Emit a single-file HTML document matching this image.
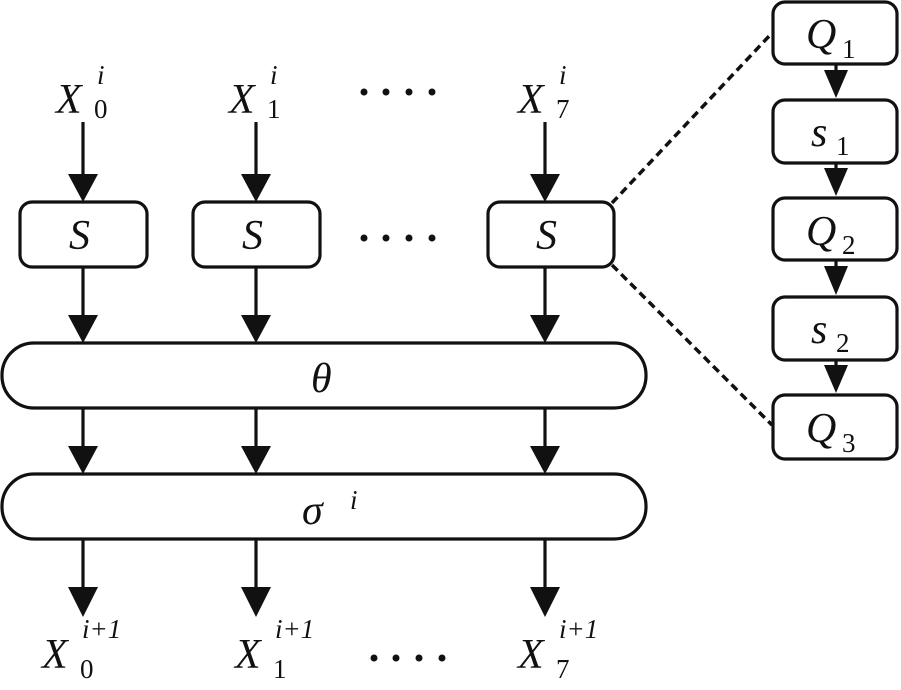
<!DOCTYPE html>
<html><head><style>
body{margin:0;background:#fff;}
</style></head><body>
<svg width="901" height="685" viewBox="0 0 901 685" xmlns="http://www.w3.org/2000/svg" font-family="'Liberation Serif', 'Times New Roman', Times, serif">
<g stroke="#111" stroke-width="3.2" fill="none">
<rect x="20" y="202" width="127" height="65" rx="12"/>
<rect x="193" y="202" width="127" height="65" rx="12"/>
<rect x="488" y="202" width="126" height="65" rx="12"/>
<rect x="2" y="343" width="644" height="65" rx="32"/>
<rect x="2" y="474" width="644" height="65" rx="32"/>
<rect x="773" y="2" width="124" height="62" rx="12"/>
<rect x="773" y="100" width="124" height="63" rx="12"/>
<rect x="773" y="198" width="124" height="62" rx="12"/>
<rect x="773" y="297" width="124" height="63" rx="12"/>
<rect x="773" y="395" width="124" height="64" rx="12"/>
<g stroke-dasharray="8,5" stroke-width="3.5">
<line x1="612" y1="203" x2="772" y2="33"/>
<line x1="612" y1="265" x2="772" y2="425"/>
</g>
<g>
<line x1="83" y1="122" x2="83" y2="180"/><line x1="256" y1="122" x2="256" y2="180"/><line x1="545" y1="122" x2="545" y2="180"/>
<line x1="83" y1="267" x2="83" y2="320"/><line x1="256" y1="267" x2="256" y2="320"/><line x1="545" y1="267" x2="545" y2="320"/>
<line x1="83" y1="408" x2="83" y2="450"/><line x1="256" y1="408" x2="256" y2="450"/><line x1="545" y1="408" x2="545" y2="450"/>
<line x1="83" y1="539" x2="83" y2="590"/><line x1="256" y1="539" x2="256" y2="590"/><line x1="545" y1="539" x2="545" y2="590"/>
<line x1="836" y1="64" x2="836" y2="80"/><line x1="836" y1="163" x2="836" y2="178"/><line x1="836" y1="260" x2="836" y2="277"/><line x1="836" y1="360" x2="836" y2="375"/>
</g>
</g>
<g fill="#111">
<path d="M68 174 L98 174 L83 202Z"/><path d="M241 174 L271 174 L256 202Z"/><path d="M530 174 L560 174 L545 202Z"/>
<path d="M68 315 L98 315 L83 343Z"/><path d="M241 315 L271 315 L256 343Z"/><path d="M530 315 L560 315 L545 343Z"/>
<path d="M68 446 L98 446 L83 474Z"/><path d="M241 446 L271 446 L256 474Z"/><path d="M530 446 L560 446 L545 474Z"/>
<path d="M68 587 L98 587 L83 617Z"/><path d="M241 587 L271 587 L256 617Z"/><path d="M530 587 L560 587 L545 617Z"/>
<path d="M824 70 L848 70 L836 98Z"/><path d="M824 168 L848 168 L836 196Z"/><path d="M824 266 L848 266 L836 295Z"/><path d="M824 365 L848 365 L836 393Z"/>
</g>
<g font-size="42" font-style="italic" fill="#111">
<text x="56" y="113">X</text><text x="229" y="113">X</text><text x="518" y="113">X</text>
<text x="42" y="668">X</text><text x="235" y="668">X</text><text x="518" y="668">X</text>
<text x="69" y="249">S</text><text x="242" y="249">S</text><text x="536" y="249">S</text>
<text x="311" y="392">θ</text><text x="302" y="524">σ</text>
<text x="806" y="48">Q</text><text x="811" y="146">s</text><text x="806" y="245">Q</text><text x="811" y="343">s</text><text x="806" y="442">Q</text>
</g>
<g font-size="27" font-style="italic" fill="#111">
<text x="97" y="84">i</text><text x="270" y="84">i</text><text x="559" y="84">i</text>
<text x="350" y="509">i</text>
<text x="82" y="638">i+1</text><text x="275" y="638">i+1</text><text x="559" y="638">i+1</text>
</g>
<g font-size="27" fill="#111">
<text x="94" y="118">0</text><text x="267" y="118">1</text><text x="556" y="118">7</text>
<text x="80" y="678">0</text><text x="273" y="678">1</text><text x="556" y="678">7</text>
<text x="842" y="58">1</text><text x="836" y="155">1</text><text x="842" y="254">2</text><text x="836" y="352">2</text><text x="842" y="452">3</text>
</g>
<g fill="#111">
<circle cx="364" cy="92" r="3.5"/><circle cx="386" cy="92" r="3.5"/><circle cx="409" cy="92" r="3.5"/><circle cx="432" cy="92" r="3.5"/>
<circle cx="364" cy="238" r="3.5"/><circle cx="386" cy="238" r="3.5"/><circle cx="409" cy="238" r="3.5"/><circle cx="432" cy="238" r="3.5"/>
<circle cx="374" cy="658" r="3.5"/><circle cx="396" cy="658" r="3.5"/><circle cx="419" cy="658" r="3.5"/><circle cx="442" cy="658" r="3.5"/>
</g>
</svg>
</body></html>
